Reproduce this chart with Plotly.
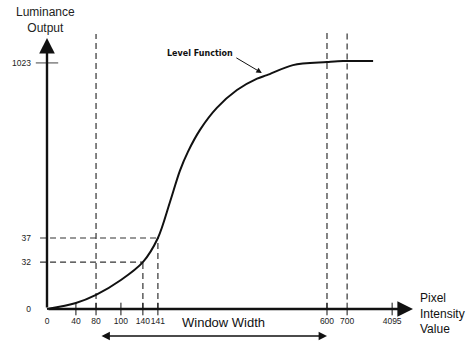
import plotly.graph_objects as go

# Schematic window/level diagram: luminance output vs. pixel intensity value.
# The horizontal axis is not to scale, so every labelled value is placed at a
# schematic position along the axis (0-100 units for both axes).
X_TICK_LABELS = ["0", "40", "80", "100", "140", "141", "600", "700", "4095"]
X_TICK_POS = [0, 7.9, 13.4, 20.2, 26.2, 30.3, 76.5, 82.0, 94.3]

Y_TICK_LABELS = ["0", "32", "37", "1023"]
Y_TICK_POS = [0, 17.3, 26.2, 90.8]

# Level function (S-shaped response), in schematic units
CURVE_X = [0, 7.9, 13.4, 20.2, 26.2, 30.3, 33.6, 36.3, 38.5, 41.8, 46.4,
           51.9, 57.4, 60.1, 67.2, 76.5, 80.9, 89.1]
CURVE_Y = [0, 2.2, 5.2, 10.7, 17.3, 26.2, 39.5, 51.0, 58.0, 66.1, 74.2,
           80.8, 85.0, 86.3, 90.0, 91.1, 91.5, 91.5]

XP = dict(zip(X_TICK_LABELS, X_TICK_POS))
YP = dict(zip(Y_TICK_LABELS, Y_TICK_POS))

W, H = 474, 350
# plot-area geometry (pixels) and scale
ORIGIN_X, ORIGIN_Y = 47, 309
KX = (413 - 47) / 100.0
KY = (309 - 38) / 100.0
L, R, T, B = 32, 46, 30, 38
x_range = [-(ORIGIN_X - L) / KX, (W - R - ORIGIN_X) / KX]
y_range = [-(H - B - ORIGIN_Y) / KY, (ORIGIN_Y - T) / KY]


def px(xp):
    """Horizontal page pixel -> paper fraction."""
    return (xp - L) / (W - L - R)


def py(yp):
    """Vertical page pixel -> paper fraction."""
    return (H - B - yp) / (H - T - B)


INK = "#111111"
DASH = dict(color="#333333", width=1.2, dash="6px,4px")
FONT = "Liberation Sans, Arial, sans-serif"

fig = go.Figure()

# dashed guide lines
guides = [
    ([XP["80"], XP["80"]], [0, 101.5]),
    ([XP["600"], XP["600"]], [0, 102.5]),
    ([XP["700"], XP["700"]], [3.5, 102.5]),
    ([XP["140"], XP["140"]], [0, YP["32"]]),
    ([XP["141"], XP["141"]], [0, YP["37"]]),
    ([-1.9, XP["140"]], [YP["32"], YP["32"]]),
    ([-1.9, XP["141"]], [YP["37"], YP["37"]]),
]
for gx, gy in guides:
    fig.add_trace(go.Scatter(x=gx, y=gy, mode="lines", line=DASH,
                             hoverinfo="skip", showlegend=False))

# level function curve
fig.add_trace(go.Scatter(x=CURVE_X, y=CURVE_Y, mode="lines",
                         line=dict(color=INK, width=2, shape="spline", smoothing=0.9),
                         showlegend=False))

# small tick marks crossing the horizontal axis
fig.add_trace(go.Scatter(x=X_TICK_POS[1:], y=[0] * (len(X_TICK_POS) - 1),
                         mode="markers", cliponaxis=False,
                         marker=dict(symbol="line-ns", size=9,
                                     line=dict(color=INK, width=1)),
                         hoverinfo="skip", showlegend=False))
# tick mark on the vertical axis at the top value
fig.add_trace(go.Scatter(x=[0], y=[YP["1023"]], mode="markers", cliponaxis=False,
                         marker=dict(symbol="line-ew", size=16,
                                     line=dict(color="#444444", width=1)),
                         hoverinfo="skip", showlegend=False))

annotations = [
    # axes drawn as arrows
    dict(x=100, y=0, ax=0, ay=0, axref="x", ayref="y",
         showarrow=True, arrowhead=2, arrowsize=1.3, arrowwidth=2.4,
         arrowcolor=INK, text=""),
    dict(x=0, y=100, ax=0, ay=0, axref="x", ayref="y",
         showarrow=True, arrowhead=2, arrowsize=1.3, arrowwidth=2.4,
         arrowcolor=INK, text=""),
    # window width double arrow (below the axis)
    dict(xref="paper", yref="paper", x=px(327), y=py(336), ax=-(327 - 100), ay=0,
         showarrow=True, arrowhead=2, arrowside="end+start", arrowsize=1.2,
         arrowwidth=1.4, arrowcolor=INK, text=""),
    dict(xref="paper", yref="paper", x=px(180), y=py(322), text="Window Width",
         showarrow=False, xanchor="left", yanchor="middle",
         font=dict(family=FONT, size=13, color=INK)),
    # level function label and pointer
    dict(x=58.7, y=87.1, ax=-27, ay=-16, showarrow=True, arrowhead=2,
         arrowsize=1.1, arrowwidth=1, arrowcolor=INK, text=""),
    dict(x=41.8, y=94.1, text="<b>Level Function</b>", showarrow=False,
         font=dict(family="DejaVu Sans, sans-serif", size=8, color=INK)),
    # axis titles
    dict(xref="paper", yref="paper", x=px(45), y=py(20), text="Luminance<br>Output",
         showarrow=False, xanchor="center", yanchor="middle",
         font=dict(family=FONT, size=12, color="#222222")),
    dict(xref="paper", yref="paper", x=px(418), y=py(313),
         text="Pixel<br>Intensity<br>Value", showarrow=False,
         align="left", xanchor="left", yanchor="middle",
         font=dict(family=FONT, size=12, color=INK)),
]

fig.update_layout(
    width=W, height=H,
    margin=dict(l=L, r=R, t=T, b=B, pad=0),
    paper_bgcolor="white", plot_bgcolor="white",
    font=dict(family=FONT, color=INK),
    annotations=annotations,
    xaxis=dict(range=x_range, showgrid=False, zeroline=False, showline=False,
               tickvals=X_TICK_POS, ticktext=X_TICK_LABELS, tickangle=0,
               ticks="outside", ticklen=1, tickcolor="rgba(0,0,0,0)",
               tickfont=dict(size=8.5, family=FONT, color="#222222")),
    yaxis=dict(range=y_range, showgrid=False, zeroline=False, showline=False,
               tickvals=Y_TICK_POS, ticktext=Y_TICK_LABELS,
               ticks="", tickfont=dict(size=8.5, family=FONT, color="#222222")),
)

fig.write_html("out.html")
